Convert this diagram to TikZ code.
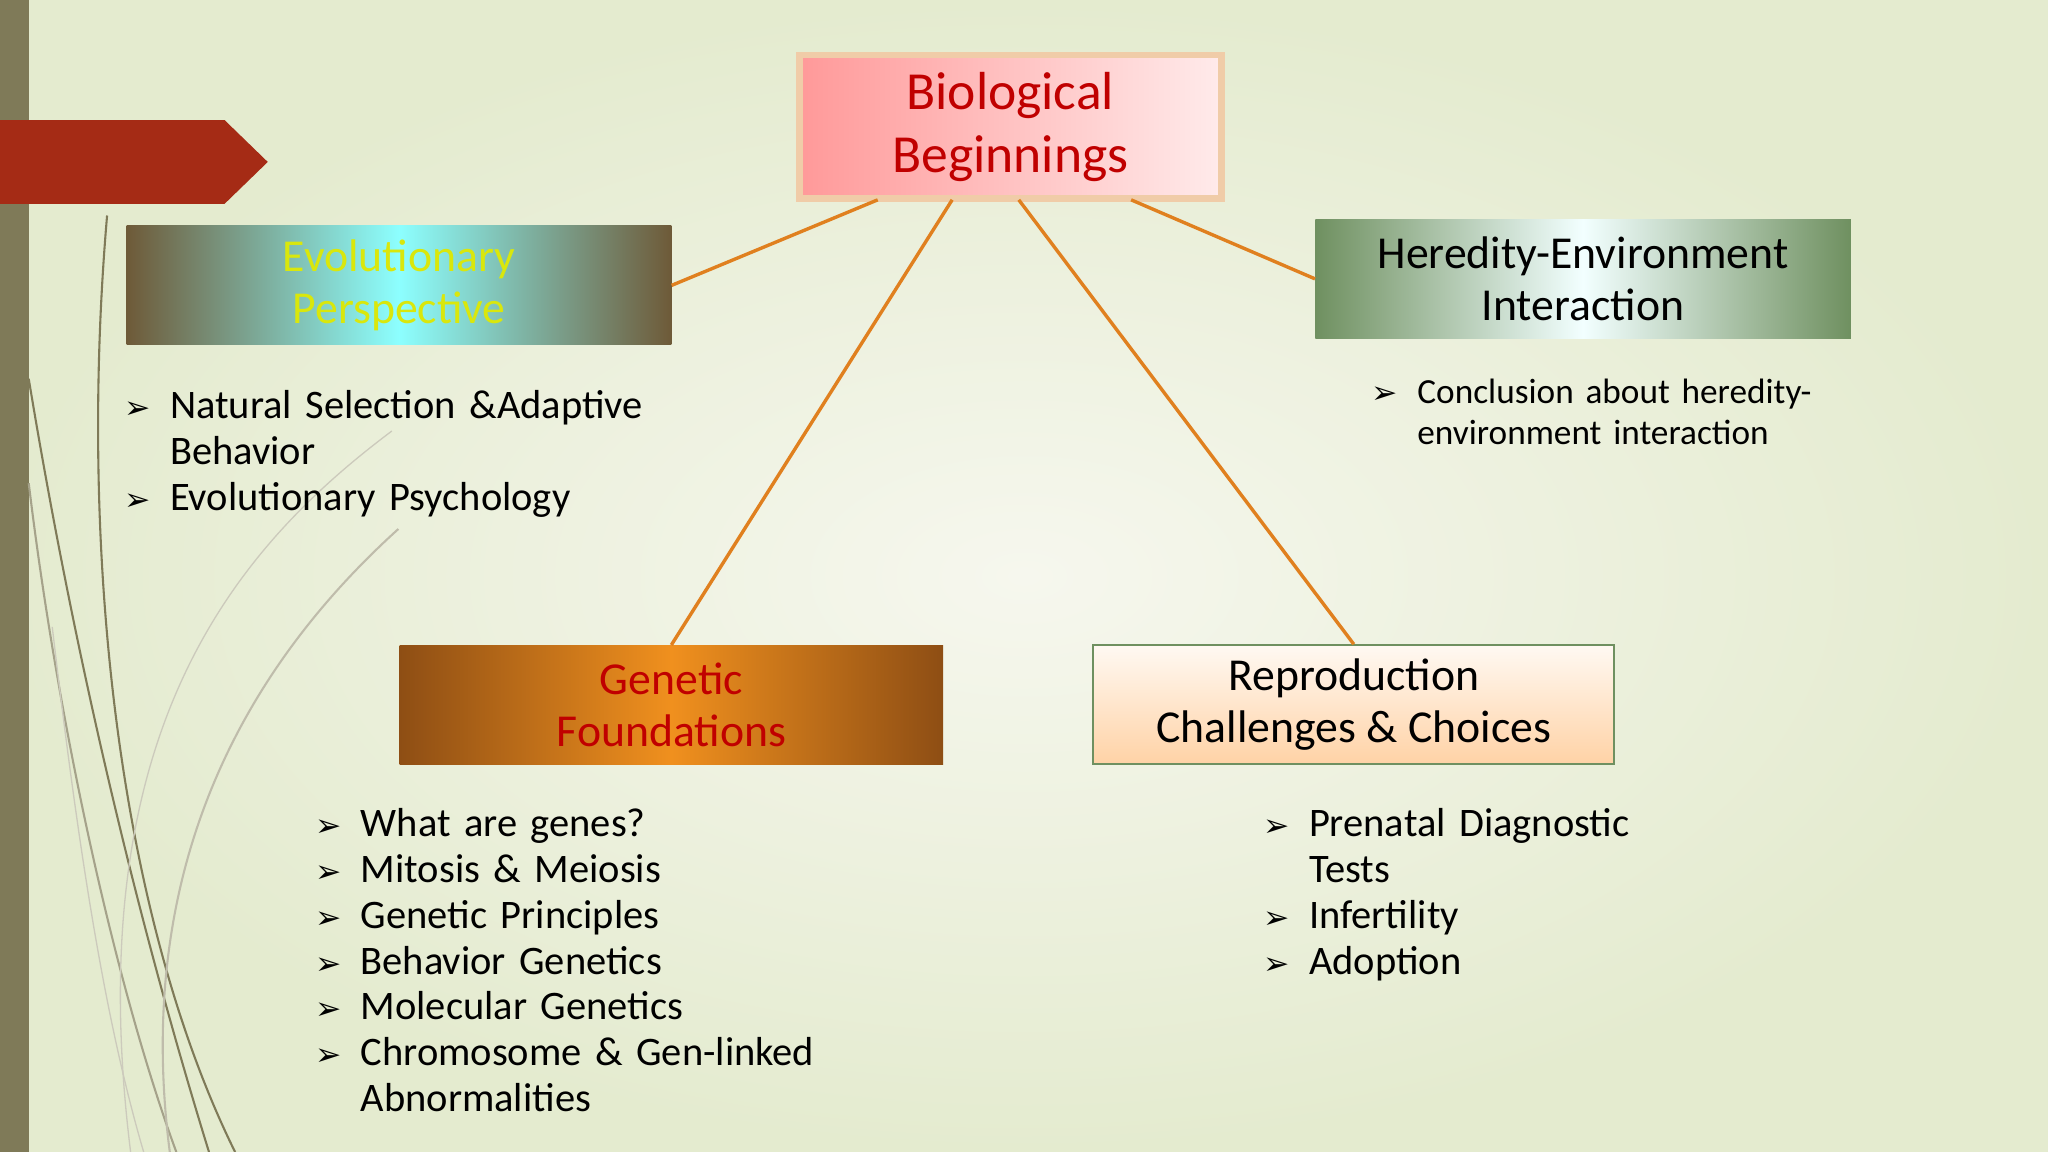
\documentclass[tikz,border=0pt]{standalone}
\usepackage{fontspec}
\setmainfont{Carlito}
\newfontfamily\dejavu{DejaVu Sans}
\usetikzlibrary{positioning}
\definecolor{bgA}{HTML}{F6F7EE}
\definecolor{bgB}{HTML}{E4EBCF}
\definecolor{conn}{HTML}{E0801F}
\definecolor{olive}{HTML}{7F7A58}
\definecolor{rust}{HTML}{A52B15}
\definecolor{darkred}{HTML}{C00000}
\definecolor{evoedge}{HTML}{6E5A38}
\definecolor{heredge}{HTML}{6F9060}
\definecolor{genedge}{HTML}{8E4E14}
\definecolor{gencenter}{HTML}{F0901E}
\tikzset{
 box/.style={minimum width=#1, minimum height=91pt, align=center, inner sep=0pt, font=\fontsize{35}{40}\selectfont},
 conline/.style={draw=conn, line width=2.6pt},
 deco/.style={draw=olive, line width=1.6pt},
 item/.style={anchor=north west, align=left, inner sep=0pt, font=\fontsize{31}{35}\selectfont, text width=#1},
 smallitem/.style={anchor=north west, align=left, inner sep=0pt, font=\fontsize{27}{31}\selectfont, text width=#1},
}
\newcommand{\bul}{\makebox[35pt][l]{\dejavu\bfseries\fontsize{24}{35}\selectfont ➢}}
\newcommand{\ind}{\hspace*{35pt}}
\begin{document}
\begin{tikzpicture}[x=1pt,y=-1pt]
\useasboundingbox (0,0) rectangle (1568,882);
\shade[inner color=bgA, outer color=bgB] (0,0) rectangle (1568,882);
% left decoration
\fill[olive] (0,0) rectangle (22,882);
\fill[rust] (0,92) -- (172,92) -- (205,124) -- (172,156) -- (0,156) -- cycle;
\draw[deco] (82,165) .. controls (60,420) and (90,700) .. (180,882);
\draw[deco] (22,290) .. controls (60,520) and (110,720) .. (160,882);
\draw[deco, draw=olive!70] (22,370) .. controls (45,560) and (90,760) .. (135,882);
\draw[deco, draw=olive!50] (305,405) .. controls (200,500) and (100,650) .. (130,882);
\draw[deco, draw=olive!40, line width=1pt] (300,330) .. controls (180,420) and (60,560) .. (100,882);
\draw[deco, draw=olive!40, line width=1pt] (40,480) .. controls (60,650) and (80,780) .. (110,882);
% boxes
\node[box=323pt, minimum height=110pt, left color=red!40!white, right color=red!8!white, draw=orange!40!brown!40, line width=5pt, text=darkred, font=\fontsize{41}{48}\selectfont] (bio) at (773.5,97) {Biological\\Beginnings};
\node[box=417pt, left color=evoedge, right color=evoedge, middle color=cyan!45!white, text=yellow!85!green] (evo) at (305.5,218.5) {Evolutionary\\Perspective};
\node[box=410pt, left color=heredge, right color=heredge, middle color=cyan!5!white, text=black] (her) at (1212,213.5) {Heredity-Environment\\Interaction};
\node[box=416pt, left color=genedge, right color=genedge, middle color=gencenter, text=darkred] (gen) at (514,539.5) {Genetic\\Foundations};
\node[box=399pt, top color=orange!5!white, bottom color=orange!35!white, draw=heredge, line width=1.5pt, text=black] (rep) at (1036.5,539.5) {Reproduction\\Challenges \& Choices};
% connectors
\coordinate (b1) at (672,153); \coordinate (b2) at (866,153);
\coordinate (b3) at (729,153); \coordinate (b4) at (780,153);
\draw[conline] (b1) -- (evo.east);
\draw[conline] (b2) -- (her.west);
\draw[conline] (b3) -- (gen.north);
\draw[conline] (b4) -- (rep.north);
% lists
\node[item=440pt] (l1) at (95,299) {\bul Natural Selection \&Adaptive\\\ind Behavior\\\bul Evolutionary Psychology};
\node[smallitem=380pt] (l2) at (1050,290) {\bul Conclusion about heredity-\\\ind environment interaction};
\node[item=440pt] (l3) at (241,619) {\bul What are genes?\\\bul Mitosis \& Meiosis\\\bul Genetic Principles\\\bul Behavior Genetics\\\bul Molecular Genetics\\\bul Chromosome \& Gen-linked\\\ind Abnormalities};
\node[item=340pt] (l4) at (967,619) {\bul Prenatal Diagnostic\\\ind Tests\\\bul Infertility\\\bul Adoption};
\end{tikzpicture}
\end{document}
